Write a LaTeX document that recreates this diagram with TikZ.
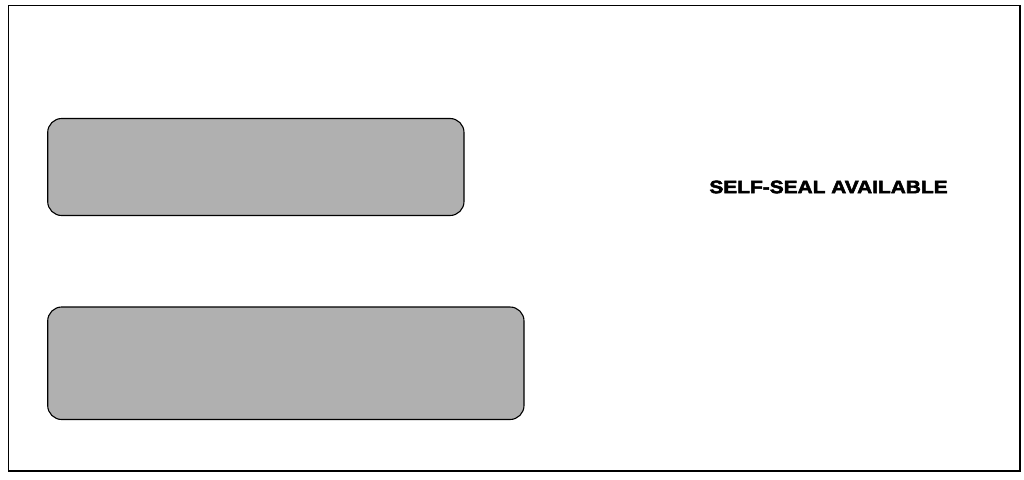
\documentclass[tikz,border=0pt]{standalone}
\usepackage{fontspec}
\setmainfont{Liberation Sans}
\newfontfamily\heavyfont[FakeBold=2.5]{Liberation Sans Bold}
\definecolor{winfill}{RGB}{176,176,176}
\tikzset{
  envelope/.style={draw=black, line width=1.5pt},
  window/.style={draw=black, line width=1.1pt, fill=winfill, rounded corners=14pt},
  label/.style={font=\heavyfont\fontsize{18}{20}\selectfont, inner sep=0pt, xscale=1.16}
}
\begin{document}
\begin{tikzpicture}[x=1pt,y=-1pt]
\useasboundingbox (0,0) rectangle (1024,479);
\fill[white] (0,0) rectangle (1024,479);
\draw[envelope] (8.5,5.5) rectangle (1020,471);
\draw[window] (47.7,118.5) rectangle (464,215.5);
\draw[window] (47.7,307) rectangle (524,419.5);
\node[label] (seal) at (828.5,187) {SELF-SEAL AVAILABLE};
\end{tikzpicture}
\end{document}
